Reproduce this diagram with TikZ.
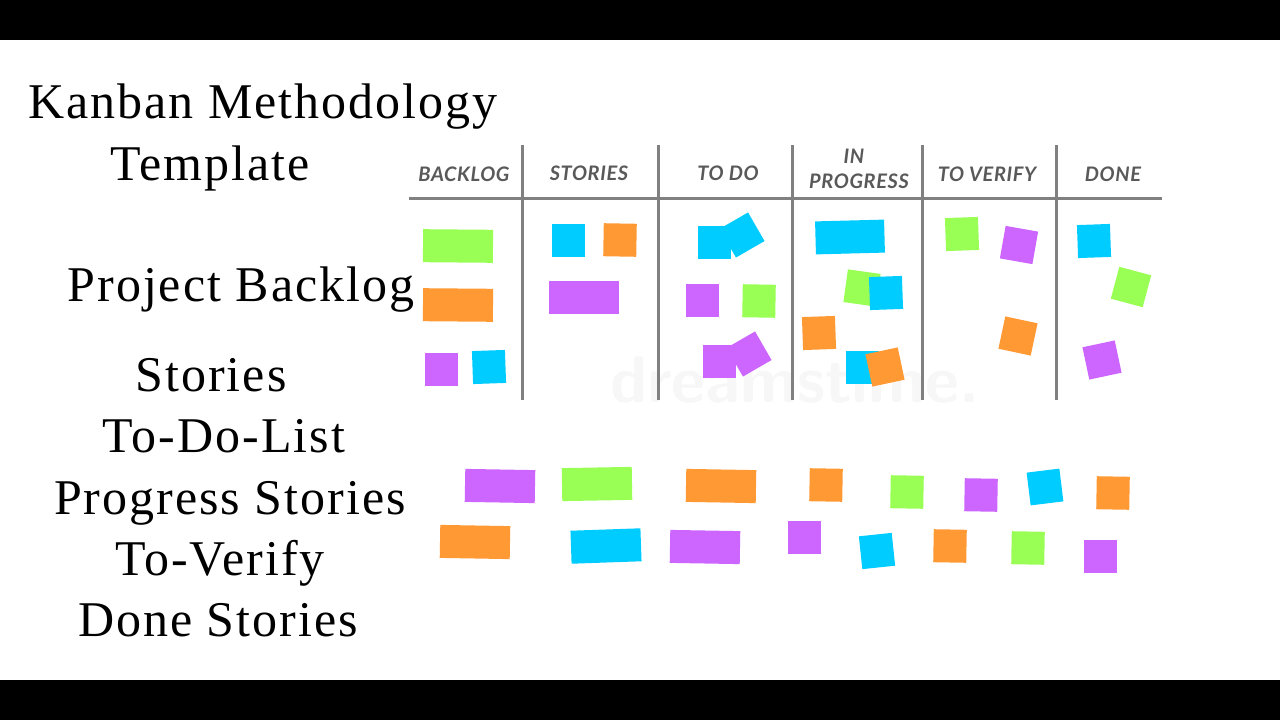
\documentclass[tikz,border=0pt]{standalone}
\usepackage{fontspec}
\setmainfont[LetterSpace=4]{Liberation Serif}
\newfontfamily\boardfont[LetterSpace=3]{Lato}
\definecolor{notegreen}{HTML}{99FF55}
\definecolor{noteorange}{HTML}{FF9933}
\definecolor{notepurple}{HTML}{CC66FF}
\definecolor{noteblue}{HTML}{00CCFF}
\definecolor{boardgray}{HTML}{808080}
\tikzset{
 note/.style={inner sep=0, minimum height=33pt, fill=#1},
 sidelabel/.style={anchor=base, text=black, inner sep=0, font=\fontsize{50}{50}\selectfont},
 collabel/.style={anchor=base, text=black!65, inner sep=0, align=center, font=\boardfont\bfseries\itshape\fontsize{20}{22}\selectfont},
 boardline/.style={boardgray, line width=3pt}
}
\begin{document}
\begin{tikzpicture}[x=1pt, y=-1pt]
\useasboundingbox (0,0) rectangle (1280,720);
\fill[white] (0,0) rectangle (1280,720);
\fill[black] (0,0) rectangle (1280,40);
\fill[black] (0,680) rectangle (1280,720);
\node[anchor=center, text=black!3, inner sep=0, font=\sffamily\bfseries\fontsize{66}{66}\selectfont] (mark) at (795,380) {dreamstime.};
\coordinate (ruleleft) at (409,198);
\coordinate (ruleright) at (1162,198);
\draw[boardline] (ruleleft)--(ruleright);
\foreach \x/\name in {522/a,658/b,792/c,922/d,1056/e} {
 \coordinate (top\name) at (\x,145);
 \coordinate (bot\name) at (\x,400);
 \draw[boardline] (top\name)--(bot\name);
}
\foreach \x/\y/\name/\txt in {464/181/backlog/BACKLOG,589/180/stories/STORIES,728/180/todo/TO DO,987/181/verify/TO VERIFY,1113/181/done/DONE} {
 \node[collabel] (\name) at (\x,\y) {\txt};
}
\node[collabel] (inprog) at (854,163) {IN};
\node[collabel] (progress) at (859,188) {PROGRESS};
\foreach \x/\y/\w/\r/\c [count=\i] in {
 458/246/70/-0.5/notegreen, 458/305/70/-0.5/noteorange, 441/369/33/0/notepurple, 489/367/33/2/noteblue,
 568/240/33/0/noteblue, 620/240/33/-1/noteorange, 584/297/70/0/notepurple,
 714/242/33/0/noteblue, 742/235/33/30/noteblue, 702/300/33/0/notepurple, 759/301/33/-1/notegreen,
 719/361/33/0/notepurple, 749/354/33/30/notepurple,
 850/237/69/1.5/noteblue, 862/288/33/-8/notegreen, 886/293/33/2/noteblue, 819/333/33/2/noteorange,
 862/367/33/0/noteblue, 885/367/33/12/noteorange,
 962/234/33/2/notegreen, 1019/245/33/-10/notepurple, 1018/336/33/-12/noteorange,
 1094/241/33/2/noteblue, 1131/287/33/-15/notegreen, 1102/360/33/12/notepurple,
 500/486/70/-1/notepurple, 597/484/70/1/notegreen, 721/486/70/-1/noteorange, 826/485/33/-1/noteorange,
 907/492/33/-1/notegreen, 981/495/33/-1/notepurple, 1045/487/33/7/noteblue, 1113/493/33/-1/noteorange,
 475/542/70/-1/noteorange, 606/546/70/2/noteblue, 705/547/70/-1/notepurple, 804/537/33/0/notepurple,
 877/551/33/6/noteblue, 950/546/33/-1/noteorange, 1028/548/33/-1/notegreen, 1100/556/33/0/notepurple} {
 \node[note=\c, minimum width=\w pt, rotate=\r] (note\i) at (\x,\y) {};
}
\foreach \x/\y/\name/\txt in {263/118/kanban/Kanban Methodology,210/180/template/Template,241/301/projback/Project Backlog,211/391/sstories/Stories,224/452/todolist/To-Do-List,230/514/progstories/Progress Stories,220/575/toverify/To-Verify,218/636/donestories/Done Stories} {
 \node[sidelabel] (\name) at (\x,\y) {\txt};
}
\end{tikzpicture}
\end{document}
